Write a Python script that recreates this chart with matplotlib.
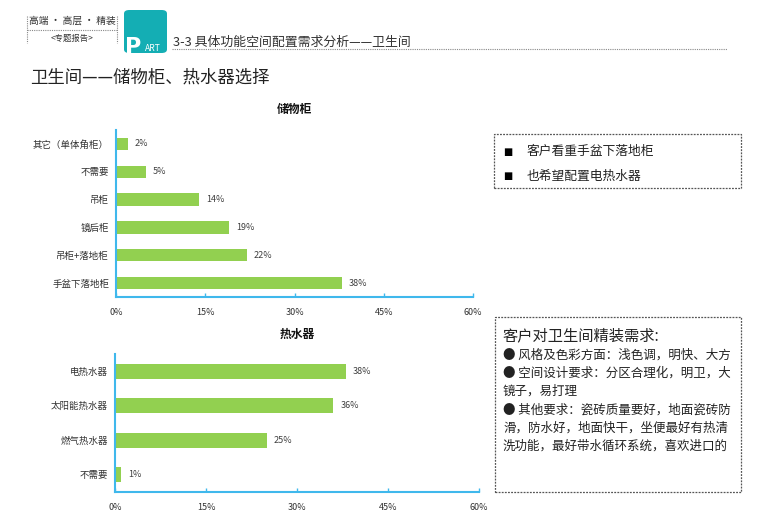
import matplotlib
matplotlib.use("Agg")
import matplotlib.pyplot as plt
from matplotlib.patches import Rectangle, FancyBboxPatch
from matplotlib.lines import Line2D

plt.rcParams['font.family'] = ['Noto Sans CJK SC', 'DejaVu Sans']

# data
cabinet_labels = ['其它（单体角柜）', '不需要', '吊柜', '镜后柜', '吊柜+落地柜', '手盆下落地柜']
cabinet_values = [2, 5, 14, 19, 22, 38]
heater_labels = ['电热水器', '太阳能热水器', '燃气热水器', '不需要']
heater_values = [38, 36, 25, 1]
x_ticks = [0, 15, 30, 45, 60]
x_ticklabels = ['0%', '15%', '30%', '45%', '60%']

box1_lines = ['客户看重手盆下落地柜', '也希望配置电热水器']
box2_title = '客户对卫生间精装需求:'
box2_lines = ['● 风格及色彩方面：浅色调，明快、大方',
              '● 空间设计要求：分区合理化，明卫，大',
              '镜子，易打理',
              '● 其他要求：瓷砖质量要好，地面瓷砖防',
              '滑，防水好，地面快干，坐便最好有热清',
              '洗功能，最好带水循环系统，喜欢进口的']

W, H = 760, 513
BAR = '#92D050'
AXC = '#3FB8EC'

fig = plt.figure(figsize=(W / 100, H / 100), dpi=100)


def fx(x):
    return x / W


def fy(y):
    return 1 - y / H


def bar_chart(rect, labels, values, title, title_y):
    ax = fig.add_axes(rect)
    pos = list(range(len(labels)))
    ax.barh(pos, values, height=0.44, color=BAR)
    ax.set_ylim(len(labels) - 0.5, -0.5)
    ax.set_xlim(0, 60)
    ax.set_yticks(pos)
    ax.set_yticklabels(labels, fontsize=6.8, color='#333333')
    ax.set_xticks(x_ticks)
    ax.set_xticklabels(x_ticklabels, fontsize=6.5, color='#333333')
    ax.tick_params(axis='y', length=0, pad=5)
    ax.tick_params(axis='x', direction='in', length=3, color=AXC, width=1, pad=8)
    for s in ['top', 'right']:
        ax.spines[s].set_visible(False)
    for s in ['left', 'bottom']:
        ax.spines[s].set_color(AXC)
        ax.spines[s].set_linewidth(1.5)
    for p, v in zip(pos, values):
        ax.annotate(f'{v}%', (v, p), xytext=(5, 0), textcoords='offset points',
                    va='center', ha='left', fontsize=6.5, color='#404040')
    cx = (rect[0] + rect[2] / 2) * W
    fig.text(fx(cx), fy(title_y), title, ha='center', va='center',
             fontsize=8.5, fontweight='bold', color='#111111')
    return ax


bar_chart([fx(116), fy(297), (473 - 116) / W, (297 - 130) / H],
          cabinet_labels, cabinet_values, '储物柜', 109)
bar_chart([fx(115), fy(492), (479 - 115) / W, (492 - 354) / H],
          heater_labels, heater_values, '热水器', 334)

# header
dot = dict(color='#888888', lw=0.8, linestyle=(0, (1, 1)))
fig.add_artist(Line2D([fx(27), fx(27)], [fy(16), fy(43)], **dot))
fig.add_artist(Line2D([fx(117), fx(117)], [fy(16), fy(43)], **dot))
fig.add_artist(Line2D([fx(27), fx(117)], [fy(30), fy(30)], **dot))
fig.text(fx(72), fy(21), '高端 · 高层 · 精装', ha='center', va='center', fontsize=7, color='#333333')
fig.text(fx(72), fy(38), '<专题报告>', ha='center', va='center', fontsize=6, color='#333333')

fig.add_artist(FancyBboxPatch((fx(124), fy(53)), fx(43), 43 / H,
                              boxstyle='round,pad=0,rounding_size=0.007',
                              facecolor='#14AEB4', edgecolor='none'))
fig.text(fx(125), fy(53), 'P', ha='left', va='baseline', fontsize=16, fontweight='bold', color='white',
         family=['DejaVu Sans'])
fig.text(fx(145), fy(51), 'ART', ha='left', va='baseline', fontsize=6.2, color='white')
fig.text(fx(173), fy(46), '3-3 具体功能空间配置需求分析——卫生间', ha='left', va='baseline',
         fontsize=9.3, color='#333333')
fig.add_artist(Line2D([fx(172), fx(727)], [fy(49), fy(49)], **dot))

fig.text(fx(30), fy(78), '卫生间——储物柜、热水器选择', ha='left', va='center', fontsize=12.5, color='#222222')

# right boxes
box_style = dict(fill=False, edgecolor='#555555', lw=0.9, linestyle=(0, (1.5, 1)))
fig.add_artist(Rectangle((fx(494), fy(188)), (741 - 494) / W, (188 - 134) / H, **box_style))
for i, t in enumerate(box1_lines):
    y = 152 + i * 24
    fig.text(fx(503), fy(y), '■', ha='left', va='center', fontsize=7, color='black',
             family=['DejaVu Sans'])
    fig.text(fx(527), fy(y), t, ha='left', va='center', fontsize=9.2, color='#222222')

fig.add_artist(Rectangle((fx(495), fy(492)), (741 - 495) / W, (492 - 317) / H, **box_style))
fig.text(fx(503), fy(336), box2_title, ha='left', va='center', fontsize=11, color='#222222')
for i, t in enumerate(box2_lines):
    y = 355 + i * 18.3
    fig.text(fx(503), fy(y), t, ha='left', va='center', fontsize=9.0, color='#222222')

fig.savefig('out.png', dpi=100)
